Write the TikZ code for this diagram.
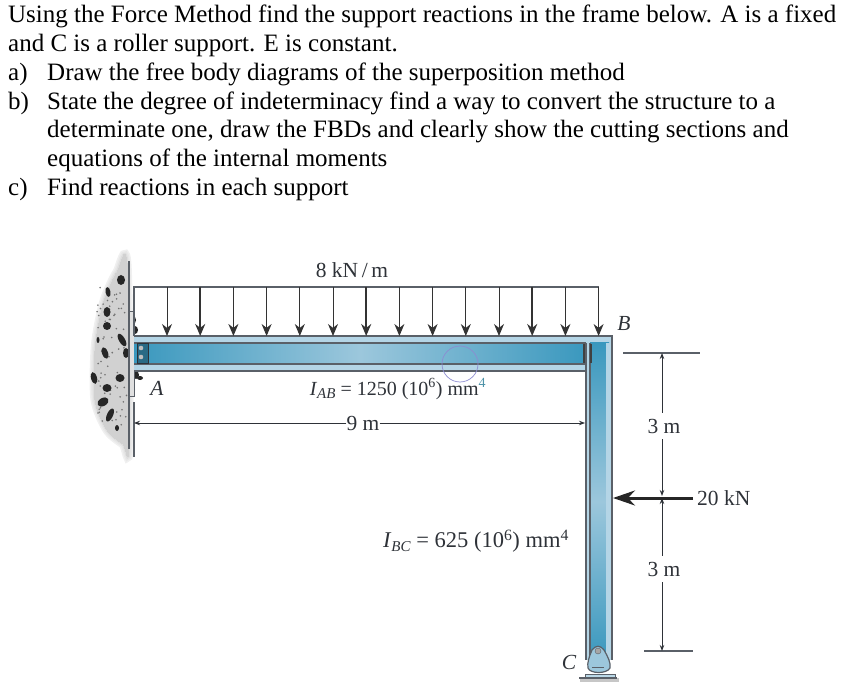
\documentclass[tikz,border=0pt]{standalone}
\usepackage{fontspec}
\setmainfont{Liberation Serif}
\usetikzlibrary{arrows.meta}
\definecolor{steeldark}{HTML}{3A98BE}
\definecolor{steellight}{HTML}{9CC7DC}
\definecolor{flange}{HTML}{B4D5E6}
\definecolor{edgegray}{HTML}{5A6068}
\definecolor{inkgray}{HTML}{2E3238}
\definecolor{tealink}{HTML}{4E93A8}
\newcommand{\Isub}[1]{\textit{I}\raisebox{-0.35ex}{\fontsize{15}{15}\selectfont\textit{#1}}}

\begin{document}
\begin{tikzpicture}[x=1pt,y=-1pt,
  question/.style={anchor=base west,inner sep=0pt,font=\fontsize{25}{28}\selectfont},
  label/.style={text=inkgray,inner sep=0pt,font=\fontsize{21.5}{24}\selectfont},
  point/.style={text=inkgray,inner sep=0pt,font=\fontsize{21.5}{24}\selectfont\itshape},
  loadarrow/.style={-{Stealth[length=12pt,width=10pt]},draw=black!80},
  dim/.style={-{Stealth[length=6pt,width=4.5pt]},draw=inkgray,line width=0.9pt},
  extline/.style={draw=edgegray,line width=1.1pt},
  stone/.style={fill=black!85,draw=none}]
\useasboundingbox (0,0) rectangle (867,684);

% question text
\node[question] at (8,23) {Using the Force Method find the support reactions in the frame below. A is a fixed};
\node[question] at (8,52) {and C is a roller support. E is constant.};
\node[question] at (8,81) {a)};
\node[question] at (47,81) {Draw the free body diagrams of the superposition method};
\node[question] at (8,110) {b)};
\node[question] at (47,110) {State the degree of indeterminacy find a way to convert the structure to a};
\node[question] at (47,138) {determinate one, draw the FBDs and clearly show the cutting sections and};
\node[question] at (47,167) {equations of the internal moments};
\node[question] at (8,196) {c)};
\node[question] at (47,196) {Find reactions in each support};

% wall
\foreach \w/\c in {9/6,6/9,3/13,0/18}
  \fill[black!\c,draw=black!\c,line width=\w pt] plot[smooth cycle] coordinates {(127,264) (117,272) (106,295) (100,317) (95,350) (95,400) (107,430) (123,444) (129,446)};
\pgfmathsetseed{7}
\foreach \i in {1,...,70} {
  \pgfmathsetmacro{\dotx}{97+rnd*30}
  \pgfmathsetmacro{\doty}{285+rnd*140}
  \fill[black!55] (\dotx,\doty) circle (0.9);
}
\foreach \x/\y/\a/\b/\r in {121/280/4/5/0,108/292/2.5/5/10,107/312/3.5/5/0,107/326/4/4/0,122/340/3/7/30,105/353/3/6/20,126/353/3/5/0,94/378/3/6/15,120/378/4.5/4/0,107/388/4.5/4/0,103/402/6/4/30,110/415/3/7/-25,117/428/2/3/0,133/320/3/4/0,135/330/3/4/0,140/378/3/2/0,133/390/2/3/0,136/375/3/4/0,98/340/1.5/3/0}
  \fill[stone,rotate around={\r:(\x,\y)}] (\x,\y) ellipse (\a pt and \b pt);
\draw[extline] (129,261) -- (129,449);
\fill[black!12,draw=edgegray,line width=1pt] (129,312) rectangle (134,396);

% beam AB
\fill[left color=steeldark,right color=steeldark,middle color=steellight] (134,343) rectangle (586,364);
\fill[flange] (134,364) rectangle (586,371);
\fill[flange] (134,336) rectangle (612,343);
\draw[edgegray,line width=1.2pt] (134,343) -- (586,343);
\draw[edgegray,line width=1.2pt] (134,364) -- (586,364);
\draw[edgegray,line width=1.6pt] (134,371) -- (586,371);
\draw[edgegray,line width=1.6pt] (134,336) -- (612,336) -- (612,343);

% column BC
\fill[top color=steeldark,bottom color=steeldark,middle color=steellight] (590,343) rectangle (609,660);
\fill[flange] (587,343) rectangle (590,660);
\fill[flange] (606,343) rectangle (611,660);
\draw[edgegray,line width=1.4pt] (586,343) -- (586,660);
\draw[edgegray,line width=1.2pt] (590,343) -- (590,660);
\draw[edgegray,line width=1.6pt] (612,336) -- (612,660);
\draw[black!75,line width=2pt] (584,344) -- (584,363);
\draw[black!75,line width=2pt] (591,344) -- (591,363);

% connection at A
\fill[steeldark!70!black,draw=inkgray,line width=0.8pt] (137,343) rectangle (148,363);
\fill[black!25] (141,348) circle (2.3);
\fill[black!25] (141,357) circle (2.3);

% roller at C
\fill[black!22] (580,678) rectangle (619,682);
\fill[steellight,draw=edgegray,line width=1.2pt] (592,650) .. controls (596,645) and (600,645) .. (604,650) .. controls (608,657) and (611,663) .. (610,668) .. controls (607,674) and (590,674) .. (588,668) .. controls (587,663) and (589,657) .. (592,650) -- cycle;
\fill[black!35,draw=edgegray] (598,651) circle (3);
\draw[edgegray,line width=1pt] (592,667) -- (604,667);
\fill[steellight!70,draw=edgegray,line width=0.8pt] (585,674) rectangle (615,677);
\draw[edgegray,line width=1.6pt] (579,678) -- (617,678);

% distributed load
\coordinate (LL) at (134,287);
\coordinate (LR) at (599,287);
\draw[extline] (134,336) -- (LL) -- (LR);
\foreach \i/\w in {0/1,1/1.8,2/1.8,3/1,4/1,5/1,6/1.8,7/1,8/1,9/1,10/1,11/1.8,12/1.8,13/1}
  \draw[loadarrow,line width=\w pt] (167+33.2*\i,287) -- (167+33.2*\i,336);

% labels
\node[label] (load) at (352,270) {8 kN\,/\,m};
\node[point] (A) at (157,388) {A};
\node[point] (B) at (624,323) {B};
\node[point] (C) at (569,662) {C};
\node[label,font=\fontsize{20}{24}\selectfont] (IAB) at (398,389) {\Isub{AB} = 1250 (10\textsuperscript{6}) mm\textsuperscript{\textcolor{tealink}{4}}};
\node[label,font=\fontsize{22.5}{24}\selectfont] (IBC) at (476,541) {\Isub{BC} = 625 (10\textsuperscript{6}) mm\textsuperscript{4}};
\draw[black!40!blue!45,line width=0.7pt] (460,364) circle (18);

% dimension 9 m
\draw[extline] (134,402) -- (134,457);
\node[label] (span) at (363,423) {9 m};
\coordinate (spanL) at (134,423);
\coordinate (spanR) at (585,423);
\draw[dim] (span.west) -- (spanL);
\draw[dim] (span.east) -- (spanR);

% dimensions 3 m
\coordinate (topL) at (623,353);
\coordinate (topR) at (700,353);
\coordinate (botL) at (644,651);
\coordinate (botR) at (693,651);
\coordinate (top) at (662,353);
\coordinate (midT) at (662,496);
\coordinate (midB) at (662,498);
\coordinate (bot) at (662,651);
\draw[extline] (topL) -- (topR);
\draw[extline] (botL) -- (botR);
\node[label] (upper) at (664,426) {3 m};
\node[label] (lower) at (664,569) {3 m};
\draw[dim] (upper.north -| top) ++(0,-6) -- (top);
\draw[dim] (upper.south -| top) ++(0,6) -- (midT);
\draw[dim] (lower.north -| top) ++(0,-6) -- (midB);
\draw[dim] (lower.south -| top) ++(0,6) -- (bot);

% point load
\node[label,anchor=west] (force) at (697,498) {20 kN};
\coordinate (tip) at (613,498);
\draw[-{Stealth[length=22pt,width=15pt]},black!85,line width=3pt] (force.west) ++(-4,0) -- (tip);
\end{tikzpicture}
\end{document}
